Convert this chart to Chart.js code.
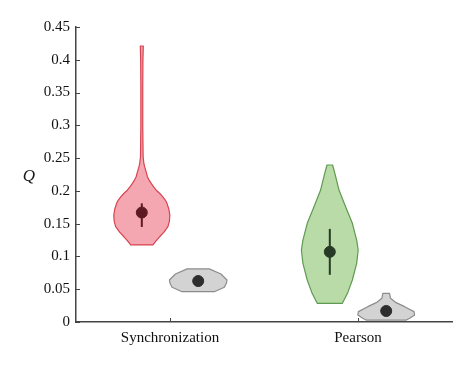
<!DOCTYPE html>
<html>
<head>
<meta charset="utf-8">
<script src="https://cdn.jsdelivr.net/npm/chart.js@4/dist/chart.umd.min.js"></script>
<style>
  html, body { margin: 0; padding: 0; background: #fff; }
  #wrap { width: 474px; height: 368px; }
</style>
</head>
<body>
<div id="wrap"><canvas id="violinChart"></canvas></div>
<script>
// categories and tick labels
const categories = ['Synchronization', 'Pearson'];
const yTickLabels = ['0', '0.05', '0.1', '0.15', '0.2', '0.25', '0.3', '0.35', '0.4', '0.45'];

// violin profiles: Q levels and half widths (in category units)
const syncLevels = [0.1175, 0.124, 0.130, 0.137, 0.1454, 0.154, 0.163, 0.172, 0.181, 0.186, 0.191, 0.196, 0.201, 0.206, 0.2115, 0.216, 0.2216, 0.227, 0.232, 0.237, 0.242, 0.252, 0.30, 0.36, 0.40, 0.421];
const syncWidths = [0.059, 0.077, 0.095, 0.118, 0.139, 0.147, 0.149, 0.144, 0.134, 0.125, 0.112, 0.096, 0.077, 0.063, 0.050, 0.040, 0.030, 0.025, 0.020, 0.015, 0.011, 0.007, 0.005, 0.005, 0.006, 0.008];

const syncRandLevels = [0.0462, 0.053, 0.059, 0.0641, 0.0732, 0.081];
const syncRandWidths = [0.086, 0.139, 0.150, 0.153, 0.121, 0.059];

const pearLevels = [0.0285, 0.0437, 0.0641, 0.0895, 0.1098, 0.125, 0.1505, 0.1759, 0.2013, 0.2268, 0.2395];
const pearWidths = [0.067, 0.094, 0.120, 0.143, 0.151, 0.143, 0.120, 0.084, 0.049, 0.027, 0.015];

const pearRandLevels = [0.003, 0.0056, 0.0107, 0.0158, 0.0234, 0.0295, 0.0361, 0.0437];
const pearRandWidths = [0.107, 0.125, 0.151, 0.148, 0.098, 0.053, 0.023, 0.018];

// medians and whiskers (measured / random)
const medians = [0.167, 0.107];
const randMedians = [0.0625, 0.0168];
const whiskerLow = [0.145, 0.072];
const whiskerHigh = [0.181, 0.142];

const violins = [
  { cat: 0, side: -1, levels: syncLevels, widths: syncWidths, fill: '#f5a7b1', line: '#d8434f' },
  { cat: 0, side: 1, levels: syncRandLevels, widths: syncRandWidths, fill: '#d3d3d3', line: '#8c8c8c' },
  { cat: 1, side: -1, levels: pearLevels, widths: pearWidths, fill: '#b9dba8', line: '#5f9a52' },
  { cat: 1, side: 1, levels: pearRandLevels, widths: pearRandWidths, fill: '#d3d3d3', line: '#8c8c8c' }
];
const OFFSET = 0.15;

const violinPlugin = {
  id: 'violins',
  beforeDatasetsDraw(chart) {
    const { ctx, scales: { x, y } } = chart;
    ctx.save();
    violins.forEach(v => {
      const cx = v.cat + 1 + v.side * OFFSET;
      ctx.beginPath();
      v.levels.forEach((lv, i) => {
        const px = x.getPixelForValue(cx + v.widths[i]);
        const py = y.getPixelForValue(lv);
        if (i === 0) ctx.moveTo(px, py); else ctx.lineTo(px, py);
      });
      for (let i = v.levels.length - 1; i >= 0; i--) {
        ctx.lineTo(x.getPixelForValue(cx - v.widths[i]), y.getPixelForValue(v.levels[i]));
      }
      ctx.closePath();
      ctx.fillStyle = v.fill;
      ctx.fill();
      ctx.lineWidth = 1.2;
      ctx.strokeStyle = v.line;
      ctx.lineJoin = 'round';
      ctx.stroke();
    });
    // whiskers
    const wColors = ['#5e1a22', '#263a25'];
    categories.forEach((c, i) => {
      const px = x.getPixelForValue(i + 1 - OFFSET);
      ctx.beginPath();
      ctx.moveTo(px, y.getPixelForValue(whiskerLow[i]));
      ctx.lineTo(px, y.getPixelForValue(whiskerHigh[i]));
      ctx.lineWidth = 2;
      ctx.strokeStyle = wColors[i];
      ctx.stroke();
    });
    ctx.restore();
  },
  afterDraw(chart) {
    const { ctx, chartArea, scales: { x, y } } = chart;
    ctx.save();
    ctx.strokeStyle = '#444';
    ctx.lineWidth = 1;
    // inward ticks
    y.ticks.forEach((t, i) => {
      const py = Math.round(y.getPixelForTick(i)) + 0.5;
      ctx.beginPath();
      ctx.moveTo(chartArea.left, py);
      ctx.lineTo(chartArea.left + 4, py);
      ctx.stroke();
    });
    x.ticks.forEach((t, i) => {
      const px = Math.round(x.getPixelForTick(i)) + 0.5;
      ctx.beginPath();
      ctx.moveTo(px, chartArea.bottom);
      ctx.lineTo(px, chartArea.bottom - 4);
      ctx.stroke();
    });
    // axis title
    ctx.fillStyle = '#1a1a1a';
    ctx.font = 'italic 17px "Liberation Serif"';
    ctx.textAlign = 'center';
    ctx.textBaseline = 'middle';
    ctx.fillText('Q', 29, y.getPixelForValue(0.222));
    ctx.restore();
  }
};

const pointData = [];
const pointColors = ['#5e1a22', '#2d2d2d', '#263a25', '#2d2d2d'];
categories.forEach((c, i) => {
  pointData.push({ x: i + 1 - OFFSET, y: medians[i] });
  pointData.push({ x: i + 1 + OFFSET, y: randMedians[i] });
});

new Chart(document.getElementById('violinChart'), {
  type: 'scatter',
  data: {
    datasets: [{
      data: pointData,
      pointRadius: 5.5,
      pointBackgroundColor: pointColors,
      pointBorderColor: pointColors,
      pointBorderWidth: 1
    }]
  },
  options: {
    responsive: true,
    maintainAspectRatio: false,
    animation: false,
    layout: { padding: { left: 0, top: 27, right: 22, bottom: 0 } },
    plugins: { legend: { display: false }, tooltip: { enabled: false } },
    scales: {
      x: {
        type: 'linear',
        min: 0.5,
        max: 2.5,
        afterBuildTicks: s => { s.ticks = categories.map((c, i) => ({ value: i + 1 })); },
        afterFit: s => { s.height = 46; },
        grid: { display: false, drawTicks: false },
        border: { display: true, color: '#444', width: 1.5 },
        ticks: {
          padding: 7,
          color: '#111',
          font: { family: 'Liberation Serif', size: 15 },
          callback: v => categories[v - 1]
        }
      },
      y: {
        min: 0,
        max: 0.45,
        afterBuildTicks: s => { s.ticks = yTickLabels.map(l => ({ value: parseFloat(l) })); },
        afterFit: s => { s.width = 76; },
        grid: { display: false, drawTicks: false },
        border: { display: true, color: '#444', width: 1.5 },
        ticks: {
          padding: 6,
          color: '#111',
          font: { family: 'Liberation Serif', size: 15 },
          callback: (v, i) => yTickLabels[i]
        }
      }
    }
  },
  plugins: [violinPlugin]
});
</script>
</body>
</html>
